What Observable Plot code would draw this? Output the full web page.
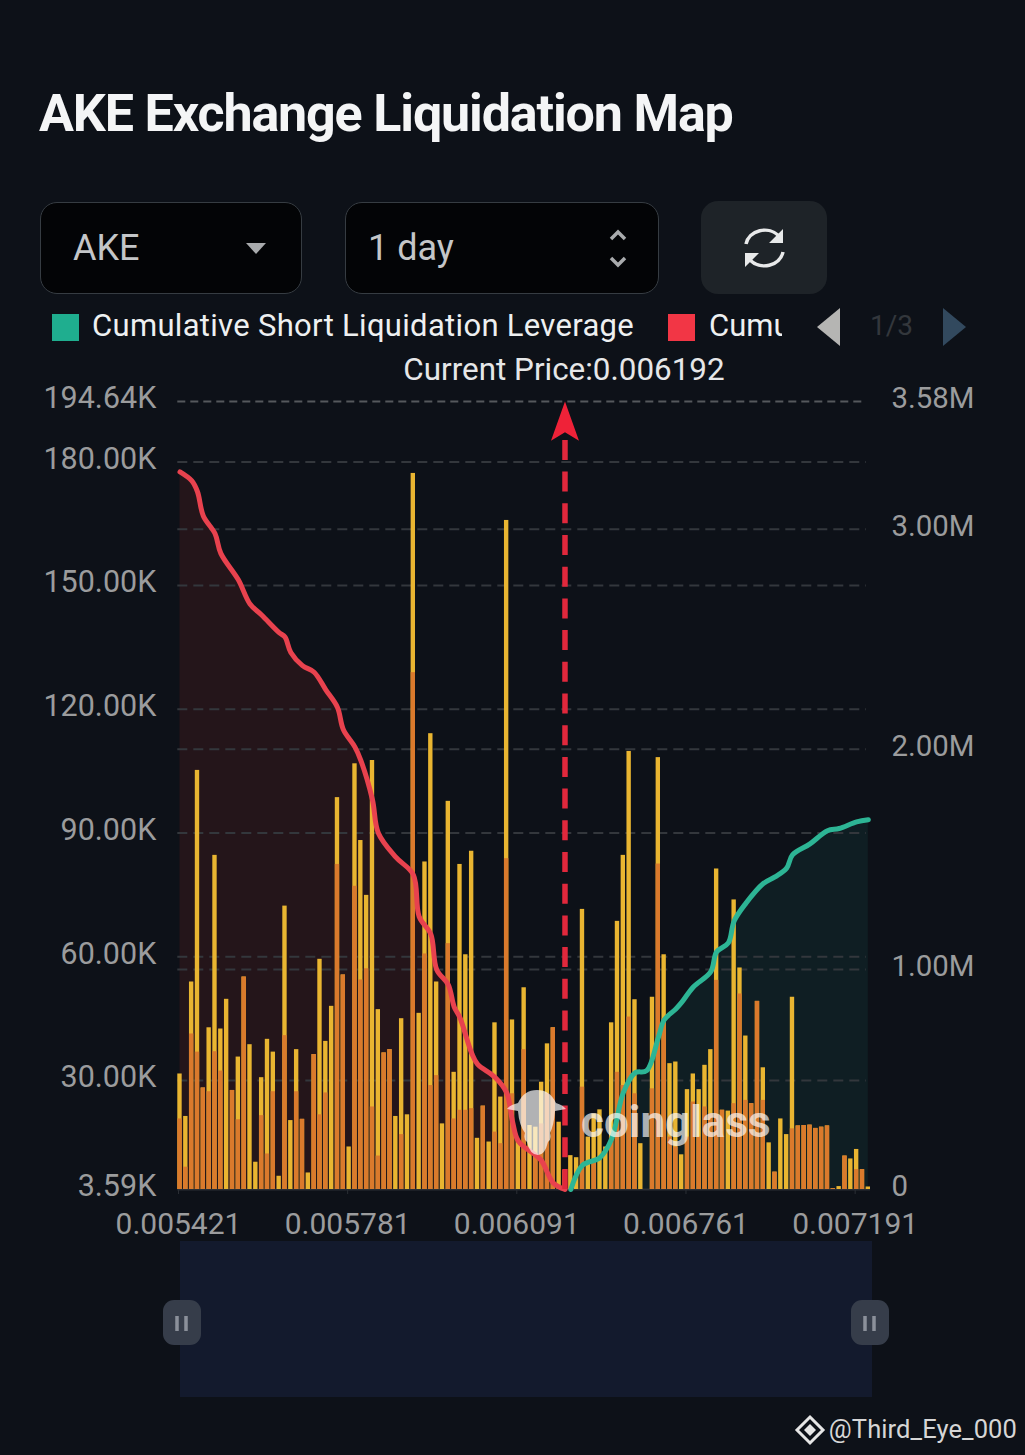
<!DOCTYPE html>
<html><head><meta charset="utf-8">
<script src="https://cdn.jsdelivr.net/npm/d3@7"></script>
<script src="https://cdn.jsdelivr.net/npm/@observablehq/plot@0.6"></script>
<style>
html,body{margin:0;padding:0;background:#0d1118;width:1025px;height:1455px;overflow:hidden;font-family:Roboto,sans-serif}
.a{position:absolute;white-space:nowrap}
.box{box-sizing:border-box;background:#030406;border:1.5px solid #363c42;border-radius:17px}
#chart{position:absolute;left:0;top:340px}
</style></head><body>
<div class="a" id="title" style="left:39px;top:83px;font-size:52px;font-weight:700;color:#f4f5f6;letter-spacing:-1.15px">AKE Exchange Liquidation Map</div>
<div class="a box" style="left:40px;top:202px;width:262px;height:92px"></div>
<div class="a" style="left:73px;top:227px;font-size:36px;color:#c4c6c8">AKE</div>
<div class="a box" style="left:345px;top:202px;width:314px;height:92px"></div>
<div class="a" style="left:368px;top:227px;font-size:36px;color:#c4c6c8">1 day</div>
<div class="a" style="left:701px;top:201px;width:126px;height:93px;background:#1e2328;border-radius:17px"></div>
<svg class="a" style="left:0;top:0" width="1025" height="400">
<path d="M246 243h20l-10 11z" fill="#a9abad"/>
<path d="M611 239l7-7 7 7M611 258l7 7 7-7" fill="none" stroke="#a9abad" stroke-width="3.5"/>
<path d="M746 244a19 17 0 0 1 33-8M783 252a19 17 0 0 1-33 8" fill="none" stroke="#e8e9ea" stroke-width="3.5"/>
<path d="M783 229v14h-14zM745 267v-14h14z" fill="#e8e9ea"/>
<rect x="52" y="314" width="27" height="27" fill="#1fae8f"/>
<rect x="668" y="314" width="27" height="27" fill="#f23645"/>
<path d="M817 327l23-19v38z" fill="#b5b5b3"/>
<path d="M966 327l-23-19v38z" fill="#32495e"/>
</svg>
<div class="a" style="left:92px;top:307px;font-size:31px;color:#eef0f1;letter-spacing:.31px">Cumulative Short Liquidation Leverage</div>
<div class="a" style="left:709px;top:307px;font-size:31px;color:#eef0f1">Cumu</div>
<div class="a" style="left:782px;top:307px;width:8px;height:38px;background:#0d1118"></div>
<div class="a" style="left:870px;top:309px;font-size:28px;color:#33373c">1/3</div>
<div id="chart"></div>
<svg class="a" style="left:0;top:0;pointer-events:none" width="1025" height="1455">
<path d="M507 1109q3-4 11-6 6-13 19-13t19 13q7 2 10 6l-11 2q-1 14-5 22 2 6-2 9-3 13-10 13-8 0-11-13-4-3-2-9-6-8-7-22z" fill="#fff" fill-opacity=".68"/>
</svg>
<div class="a" style="left:180px;top:1241px;width:692px;height:156px;background:#131a2d"></div>
<div class="a" style="left:163px;top:1300px;width:38px;height:45px;background:#363d4a;border-radius:11px"></div>
<div class="a" style="left:851px;top:1300px;width:38px;height:45px;background:#363d4a;border-radius:11px"></div>
<svg class="a" style="left:0;top:1290px" width="1025" height="165">
<path d="M177 26v15M186 26v15M865 26v15M874 26v15" stroke="#8b909a" stroke-width="3.5"/>
<g fill="none" stroke="#e6e6e6" stroke-width="3"><path d="M810 127l13 13-13 13-13-13z"/></g>
<path d="M810 134l6 6-6 6-6-6z" fill="#e6e6e6"/>
</svg>
<div class="a" style="right:8px;top:1414px;font-size:25.5px;color:#d6d6d6;letter-spacing:.1px">@Third_Eye_000</div>
<script>
const nBars = 119;
// Total liquidation leverage per price bucket (K), yellow top of each bar
const yellowTop = [31.6,21.3,53.9,105.2,28.2,42.8,84.6,42.5,49.7,27.6,35.7,55.1,38.7,10.2,30.7,40.0,36.9,6.8,72.3,20.3,37.5,20.6,7.6,36.3,59.4,39.5,48.0,98.6,55.6,13.9,106.8,88.2,74.9,107.6,47.2,36.7,37.5,21.3,45.0,21.7,177.2,46.3,83.0,114.1,53.9,19.5,97.7,32.0,82.4,60.5,85.6,16.0,23.8,15.1,44.0,26.0,165.8,44.7,15.5,52.5,19.1,18.7,29.6,38.9,42.8,19.9,8.2,11.8,11.3,71.5,16.3,21.9,22.9,13.9,44.0,68.6,84.6,109.8,49.6,14.7,3.59,50.2,108.3,60.5,34.1,34.5,12.0,27.8,31.6,27.8,33.7,37.5,81.3,22.8,22.6,73.8,57.3,40.8,24.4,49.2,33.1,14.9,7.8,20.7,16.9,50.2,19.0,19.1,19.2,18.4,18.7,19.0,3.8,4.3,11.7,11.0,13.3,8.4,4.2];
// Lower orange section of each bar (K); 3.59 means the bar is all yellow
const orangeTop = [20.7,9.0,41.3,36.9,28.2,27.3,37.0,32.3,3.59,27.6,20.5,55.1,3.59,3.59,21.5,12.2,27.3,3.59,40.9,3.59,27.3,20.6,3.59,36.3,21.7,27.0,3.59,82.4,55.6,3.59,77.1,54.4,57.1,23.6,11.7,36.7,37.5,3.59,16.9,3.59,128.9,3.59,60.7,28.8,31.2,3.59,63.2,20.7,22.8,22.8,23.2,3.59,23.8,3.59,17.5,14.7,83.8,26.8,3.59,37.5,3.59,11.4,19.5,26.8,42.8,3.59,3.59,3.59,3.59,28.4,3.59,10.6,3.59,3.59,16.3,32.0,28.8,45.4,26.8,3.59,3.59,28.0,82.5,45.0,16.3,13.9,3.59,16.3,24.8,16.3,23.6,21.9,54.3,22.8,3.59,24.4,51.0,25.2,24.4,49.2,25.2,3.59,7.8,3.59,3.59,18.3,19.0,19.1,19.2,18.4,18.7,19.0,3.8,3.59,11.7,3.59,8.4,8.4,3.59];
// Cumulative curves: bucket index and value (M, right axis)
const redIdx = [0,2,3,4,6,7,10,12,14,17,18,19,21,23,25,27,28,30,31,33,34,37,40,41,43,44,46,47,48,50,51,54,56,57,58,61,62,64,66];
const redM = [3.26,3.22,3.17,3.06,2.98,2.89,2.77,2.66,2.61,2.53,2.51,2.44,2.38,2.35,2.27,2.19,2.09,2.01,1.95,1.77,1.62,1.51,1.43,1.24,1.16,1.0,0.93,0.83,0.78,0.62,0.57,0.51,0.44,0.31,0.22,0.155,0.13,0.03,0];
const greenIdx = [67,69,72,74,76,78,80,82,83,85,86,88,91,92,94,95,97,100,102,104,105,108,111,113,116,118];
const greenM = [0,0.11,0.145,0.23,0.44,0.53,0.54,0.69,0.77,0.82,0.85,0.92,0.99,1.08,1.12,1.22,1.30,1.39,1.42,1.46,1.52,1.57,1.63,1.64,1.67,1.68];
const leftTicks = [3.59,30,60,90,120,150,180,194.64];
const rightTicks = [0,1,2,3,3.58];
const rightLabels = ["0","1.00M","2.00M","3.00M","3.58M"];
const xTickIdx = [0,29,58,87,116];
const xTickLabels = ["0.005421","0.005781","0.006091","0.006761","0.007191"];
const currentIdx = 66;
const currentLabel = "Current Price:0.006192";
const arrowTopK = 185.2;

const yMin = 3.59, yMax = 194.64, rMax = 3.58;
const toLeft = m => yMin + m * (yMax - yMin) / rMax;
const bars = yellowTop.map((v,i)=>({i,y:v,o:orangeTop[i]}));
const red = redIdx.map((i,k)=>({i,v:toLeft(redM[k])}));
const green = greenIdx.map((i,k)=>({i,v:toLeft(greenM[k])}));
const arrow = {draw(c,size){const r=Math.sqrt(size/Math.PI);c.moveTo(0,0);c.lineTo(r,2.8*r);c.lineTo(0,2.2*r);c.lineTo(-r,2.8*r);c.closePath();}};
const AX = {fontSize:30.5,color:"#9b9c9d",fontFamily:"Roboto",label:null};
const smooth = "catmull-rom";
const gridOpts = {x1:0,x2:nBars-1,insetRight:4,stroke:"#33373c",strokeWidth:2,strokeDasharray:"10 6"};
const plot = Plot.plot({
  width:1025,height:910,marginLeft:177.3,marginRight:155,marginTop:61,marginBottom:61,
  style:{background:"transparent",fontFamily:"Roboto"},
  x:{type:"band",domain:d3.range(nBars),paddingInner:.25,paddingOuter:0,round:false,axis:null},
  y:{type:"linear",domain:[yMin,yMax],axis:null},
  marks:[
    Plot.areaY(red,{x:"i",y1:yMin,y2:"v",fill:"#24151a",curve:smooth}),
    Plot.areaY(green,{x:"i",y1:yMin,y2:"v",fill:"#0f1e23",curve:smooth}),
    Plot.ruleY(leftTicks.slice(1,-1),gridOpts),
    Plot.ruleY(rightTicks.slice(1,-1).map(toLeft),gridOpts),
    Plot.ruleY([yMax],{...gridOpts,stroke:"#55585c",strokeDasharray:"8 5"}),
    Plot.ruleY([yMin],{x1:0,x2:nBars-1,stroke:"#2b2f35",strokeWidth:2}),
    Plot.barY(bars,{x:"i",y1:yMin,y2:"y",fill:"#e9b531"}),
    Plot.barY(bars,{x:"i",y1:yMin,y2:"o",fill:"#da7a2c"}),
    Plot.line(red,{x:"i",y:"v",stroke:"#e8424e",strokeWidth:5,curve:smooth}),
    Plot.line(green,{x:"i",y:"v",stroke:"#2db595",strokeWidth:5,curve:smooth}),
    Plot.ruleX([currentIdx],{y1:yMin,y2:arrowTopK,stroke:"#e1283c",strokeWidth:5.5,strokeDasharray:"20 11.7"}),
    Plot.dot([currentIdx],{x:d=>d,y:()=>yMax,r:14,symbol:arrow,fill:"#ef2238",stroke:null}),
    Plot.text([currentLabel],{x:()=>currentIdx,y:()=>yMax,text:d=>d,dy:-32,dx:-1,fontSize:31.4,fill:"#e6e7e8"}),
    Plot.text(["coinglass"],{x:()=>85,y:()=>19.8,text:d=>d,fontSize:44,fontWeight:700,fill:"#fff",fillOpacity:.68}),
    Plot.axisY(leftTicks,{...AX,anchor:"left",tickSize:0,tickPadding:21.5,dy:-3,tickFormat:d=>d.toFixed(2)+"K"}),
    Plot.axisY(rightTicks.map(toLeft),{...AX,fontSize:29.4,anchor:"right",tickSize:0,tickPadding:21,dy:-3,tickFormat:(d,i)=>rightLabels[i]}),
    Plot.axisX(xTickIdx,{...AX,fontSize:30,stroke:"#2b2f35",dx:-1.5,anchor:"bottom",tickSize:5,tickPadding:18,tickFormat:(d,i)=>xTickLabels[i]})
  ]
});
document.getElementById("chart").appendChild(plot);
</script>
</body></html>
